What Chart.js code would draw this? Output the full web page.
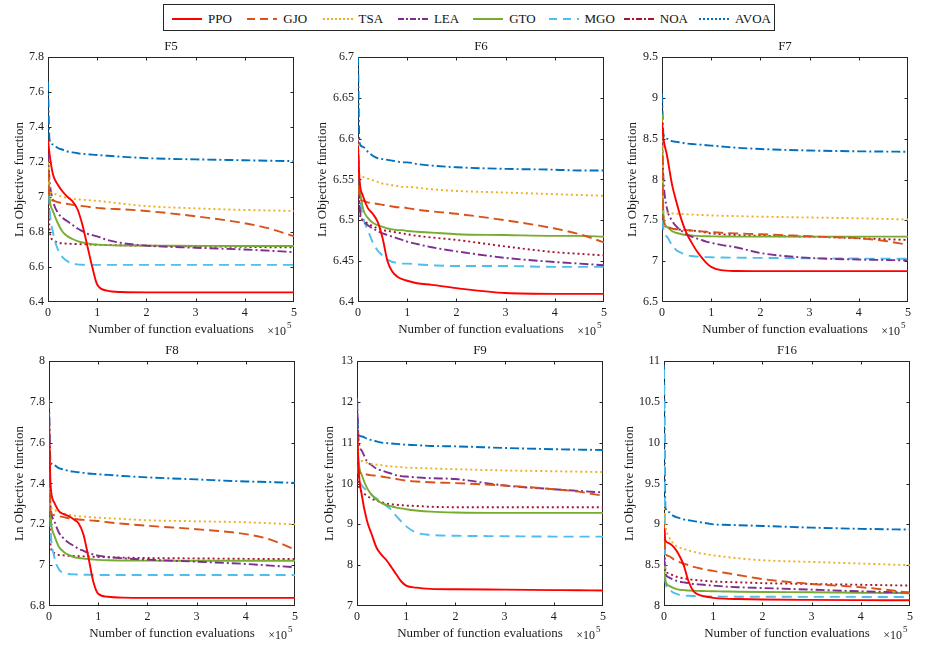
<!DOCTYPE html>
<html>
<head>
<meta charset="utf-8">
<script src="https://cdn.jsdelivr.net/npm/chart.js@4.4.1/dist/chart.umd.min.js"></script>
<style>
  body { margin: 0; background: #fff; width: 925px; height: 650px; position: relative; overflow: hidden; }
  .panel { position: absolute; }
  #legend { position: absolute; left: 163px; top: 4px; width: 612px; height: 27px; border: 1px solid #262626; box-sizing: border-box; background: #fff; }
  .item { position: absolute; top: 0; height: 27px; display: flex; align-items: center; font: 13px "Liberation Serif", "Times New Roman", serif; color: #111; }
  .item canvas { margin-right: 6px; }
</style>
</head>
<body>
<div id="legend"></div>
<div class="panel" style="left:1px;top:39px;width:307px;height:299px"><canvas id="c0"></canvas></div>
<div class="panel" style="left:311px;top:39px;width:307px;height:299px"><canvas id="c1"></canvas></div>
<div class="panel" style="left:615px;top:39px;width:307px;height:299px"><canvas id="c2"></canvas></div>
<div class="panel" style="left:2px;top:343px;width:307px;height:299px"><canvas id="c3"></canvas></div>
<div class="panel" style="left:310px;top:343px;width:307px;height:299px"><canvas id="c4"></canvas></div>
<div class="panel" style="left:617px;top:343px;width:307px;height:299px"><canvas id="c5"></canvas></div>
<script>
// function evaluations, in units of 1e5
const evals = [0, 0.03, 0.1, 0.2, 0.3, 0.4, 0.5, 0.6, 0.7, 0.8, 0.9, 1, 1.2, 1.5, 2, 3, 4, 4.5, 5];
const algos = ['PPO', 'GJO', 'TSA', 'LEA', 'GTO', 'MGO', 'NOA', 'AVOA'];
const titles = ['F5', 'F6', 'F7', 'F8', 'F9', 'F16'];
const yMin = [6.4, 6.4, 6.5, 6.8, 7, 8];
const yMax = [7.8, 6.7, 9.5, 8, 13, 11];
const yStep = [0.2, 0.05, 0.5, 0.2, 1, 0.5];
const xTicks = [0, 1, 2, 3, 4, 5];

// F5
const F5_PPO  = [7.33, 7.25, 7.13, 7.07, 7.03, 7.0, 6.975, 6.93, 6.84, 6.72, 6.6, 6.5, 6.465, 6.457, 6.455, 6.455, 6.455, 6.455, 6.455];
const F5_GJO  = [7.15, 7.0, 6.98, 6.97, 6.965, 6.96, 6.955, 6.95, 6.948, 6.945, 6.94, 6.938, 6.933, 6.93, 6.92, 6.89, 6.85, 6.82, 6.775];
const F5_TSA  = [7.2, 7.04, 7.02, 7.01, 7.0, 6.995, 6.99, 6.987, 6.984, 6.982, 6.98, 6.978, 6.972, 6.962, 6.948, 6.935, 6.926, 6.923, 6.92];
const F5_LEA  = [7.25, 7.1, 6.98, 6.91, 6.88, 6.86, 6.84, 6.82, 6.805, 6.79, 6.782, 6.775, 6.755, 6.737, 6.722, 6.71, 6.7, 6.693, 6.685];
const F5_GTO  = [7.2, 7.0, 6.92, 6.85, 6.8, 6.775, 6.76, 6.748, 6.74, 6.735, 6.73, 6.728, 6.725, 6.723, 6.722, 6.721, 6.72, 6.72, 6.72];
const F5_MGO  = [7.2, 6.95, 6.8, 6.7, 6.655, 6.632, 6.62, 6.615, 6.613, 6.612, 6.612, 6.612, 6.612, 6.612, 6.612, 6.612, 6.612, 6.612, 6.612];
const F5_NOA  = [7.25, 6.82, 6.755, 6.74, 6.735, 6.733, 6.732, 6.731, 6.73, 6.729, 6.728, 6.727, 6.726, 6.724, 6.722, 6.718, 6.715, 6.713, 6.712];
const F5_AVOA = [7.66, 7.33, 7.3, 7.28, 7.27, 7.26, 7.255, 7.25, 7.247, 7.244, 7.242, 7.24, 7.236, 7.23, 7.222, 7.215, 7.21, 7.207, 7.205];
// F6
const F6_PPO  = [6.59, 6.55, 6.53, 6.515, 6.508, 6.498, 6.478, 6.45, 6.437, 6.431, 6.428, 6.426, 6.423, 6.421, 6.417, 6.411, 6.41, 6.41, 6.41];
const F6_GJO  = [6.58, 6.527, 6.524, 6.522, 6.521, 6.52, 6.519, 6.518, 6.517, 6.516, 6.516, 6.515, 6.513, 6.511, 6.508, 6.5, 6.49, 6.483, 6.473];
const F6_TSA  = [6.6, 6.556, 6.553, 6.551, 6.549, 6.547, 6.545, 6.544, 6.543, 6.542, 6.541, 6.541, 6.54, 6.538, 6.536, 6.534, 6.532, 6.531, 6.53];
const F6_LEA  = [6.6, 6.52, 6.5, 6.494, 6.49, 6.487, 6.484, 6.482, 6.48, 6.478, 6.476, 6.474, 6.471, 6.467, 6.462, 6.454, 6.449, 6.447, 6.445];
const F6_GTO  = [6.58, 6.545, 6.515, 6.503, 6.497, 6.494, 6.492, 6.49, 6.489, 6.488, 6.488, 6.487, 6.486, 6.485, 6.483, 6.482, 6.481, 6.481, 6.48];
const F6_MGO  = [6.6, 6.54, 6.505, 6.488, 6.473, 6.463, 6.457, 6.452, 6.449, 6.448, 6.447, 6.447, 6.446, 6.445, 6.444, 6.444, 6.443, 6.443, 6.443];
const F6_NOA  = [6.58, 6.51, 6.5, 6.496, 6.493, 6.49, 6.488, 6.487, 6.486, 6.485, 6.484, 6.483, 6.481, 6.479, 6.476, 6.468, 6.461, 6.459, 6.457];
const F6_AVOA = [6.7, 6.595, 6.59, 6.584, 6.579, 6.576, 6.575, 6.574, 6.573, 6.572, 6.571, 6.571, 6.569, 6.567, 6.565, 6.563, 6.562, 6.561, 6.561];
// F7
const F7_PPO  = [8.7, 8.5, 8.3, 7.95, 7.71, 7.5, 7.34, 7.23, 7.13, 7.05, 6.98, 6.93, 6.89, 6.88, 6.878, 6.878, 6.878, 6.878, 6.878];
const F7_GJO  = [8.3, 7.5, 7.42, 7.4, 7.39, 7.385, 7.38, 7.375, 7.37, 7.365, 7.36, 7.355, 7.348, 7.34, 7.33, 7.305, 7.28, 7.25, 7.2];
const F7_TSA  = [8.6, 7.6, 7.59, 7.585, 7.58, 7.577, 7.574, 7.571, 7.568, 7.566, 7.563, 7.56, 7.557, 7.552, 7.545, 7.535, 7.525, 7.518, 7.51];
const F7_LEA  = [8.5, 8.0, 7.65, 7.5, 7.42, 7.37, 7.33, 7.3, 7.28, 7.26, 7.24, 7.225, 7.2, 7.17, 7.1, 7.04, 7.02, 7.015, 7.01];
const F7_GTO  = [8.8, 7.55, 7.42, 7.37, 7.345, 7.33, 7.32, 7.315, 7.31, 7.307, 7.305, 7.304, 7.302, 7.301, 7.3, 7.3, 7.3, 7.3, 7.3];
const F7_MGO  = [7.7, 7.38, 7.3, 7.2, 7.13, 7.1, 7.075, 7.063, 7.057, 7.053, 7.05, 7.048, 7.045, 7.043, 7.04, 7.035, 7.032, 7.031, 7.03];
const F7_NOA  = [8.6, 7.5, 7.42, 7.4, 7.39, 7.385, 7.38, 7.375, 7.37, 7.36, 7.35, 7.34, 7.33, 7.32, 7.31, 7.3, 7.28, 7.27, 7.26];
const F7_AVOA = [9.05, 8.55, 8.5, 8.47, 8.46, 8.45, 8.44, 8.435, 8.43, 8.425, 8.42, 8.415, 8.405, 8.39, 8.373, 8.355, 8.345, 8.342, 8.34];
// F8
const F8_PPO  = [7.75, 7.4, 7.31, 7.265, 7.25, 7.24, 7.225, 7.205, 7.15, 7.04, 6.92, 6.86, 6.845, 6.841, 6.84, 6.84, 6.84, 6.84, 6.84];
const F8_GJO  = [7.5, 7.26, 7.245, 7.24, 7.235, 7.23, 7.227, 7.224, 7.222, 7.22, 7.218, 7.216, 7.21, 7.203, 7.193, 7.176, 7.152, 7.125, 7.076];
const F8_TSA  = [7.6, 7.29, 7.27, 7.26, 7.253, 7.247, 7.243, 7.24, 7.238, 7.236, 7.234, 7.233, 7.23, 7.226, 7.22, 7.215, 7.21, 7.205, 7.2];
const F8_LEA  = [7.6, 7.3, 7.22, 7.16, 7.13, 7.11, 7.095, 7.08, 7.07, 7.06, 7.052, 7.047, 7.04, 7.034, 7.027, 7.017, 7.006, 6.998, 6.99];
const F8_GTO  = [7.6, 7.25, 7.15, 7.09, 7.065, 7.05, 7.04, 7.035, 7.032, 7.03, 7.028, 7.026, 7.024, 7.023, 7.022, 7.022, 7.022, 7.022, 7.022];
const F8_MGO  = [7.55, 7.2, 7.05, 6.98, 6.962, 6.957, 6.955, 6.954, 6.953, 6.953, 6.953, 6.952, 6.952, 6.952, 6.952, 6.952, 6.952, 6.952, 6.952];
const F8_NOA  = [7.45, 7.1, 7.06, 7.05, 7.048, 7.046, 7.045, 7.044, 7.043, 7.042, 7.041, 7.04, 7.039, 7.037, 7.035, 7.033, 7.031, 7.03, 7.03];
const F8_AVOA = [7.81, 7.51, 7.49, 7.475, 7.468, 7.462, 7.458, 7.455, 7.452, 7.449, 7.447, 7.445, 7.442, 7.437, 7.43, 7.42, 7.41, 7.407, 7.403];
// F9
const F9_PPO  = [11.5, 10.4, 9.7, 9.1, 8.75, 8.42, 8.25, 8.12, 7.95, 7.77, 7.6, 7.5, 7.45, 7.42, 7.41, 7.4, 7.39, 7.385, 7.38];
const F9_GJO  = [11.2, 10.3, 10.25, 10.22, 10.2, 10.19, 10.17, 10.15, 10.13, 10.11, 10.09, 10.07, 10.05, 10.03, 10.01, 9.95, 9.86, 9.8, 9.7];
const F9_TSA  = [11.5, 10.6, 10.55, 10.51, 10.48, 10.46, 10.45, 10.43, 10.42, 10.41, 10.4, 10.39, 10.38, 10.37, 10.35, 10.32, 10.3, 10.29, 10.28];
const F9_LEA  = [12.1, 11.1, 10.8, 10.55, 10.45, 10.36, 10.32, 10.28, 10.24, 10.2, 10.18, 10.17, 10.15, 10.13, 10.11, 9.95, 9.86, 9.82, 9.78];
const F9_GTO  = [11.5, 10.6, 10.2, 9.9, 9.72, 9.6, 9.52, 9.47, 9.44, 9.41, 9.39, 9.37, 9.34, 9.31, 9.29, 9.28, 9.28, 9.28, 9.28];
const F9_MGO  = [11.6, 10.3, 9.95, 9.82, 9.72, 9.63, 9.55, 9.45, 9.35, 9.2, 9.07, 8.95, 8.8, 8.74, 8.72, 8.71, 8.7, 8.7, 8.7];
const F9_NOA  = [10.8, 10.0, 9.8, 9.7, 9.63, 9.58, 9.54, 9.51, 9.49, 9.48, 9.47, 9.46, 9.45, 9.43, 9.42, 9.42, 9.42, 9.42, 9.42];
const F9_AVOA = [12.02, 11.2, 11.15, 11.1, 11.06, 11.03, 11.0, 10.99, 10.98, 10.97, 10.96, 10.95, 10.94, 10.92, 10.91, 10.87, 10.84, 10.83, 10.82];
// F16
const F16_PPO  = [8.95, 8.8, 8.77, 8.72, 8.63, 8.5, 8.3, 8.18, 8.14, 8.12, 8.11, 8.1, 8.09, 8.085, 8.08, 8.075, 8.072, 8.071, 8.07];
const F16_GJO  = [9.0, 8.65, 8.61, 8.57, 8.54, 8.52, 8.5, 8.48, 8.465, 8.45, 8.44, 8.43, 8.41, 8.38, 8.33, 8.27, 8.23, 8.2, 8.16];
const F16_TSA  = [9.2, 8.98, 8.85, 8.76, 8.72, 8.7, 8.68, 8.665, 8.65, 8.64, 8.63, 8.62, 8.605, 8.585, 8.56, 8.54, 8.52, 8.51, 8.5];
const F16_LEA  = [8.6, 8.4, 8.35, 8.32, 8.3, 8.29, 8.28, 8.27, 8.265, 8.26, 8.255, 8.25, 8.24, 8.23, 8.22, 8.2, 8.18, 8.172, 8.165];
const F16_GTO  = [8.5, 8.3, 8.25, 8.22, 8.2, 8.195, 8.19, 8.187, 8.185, 8.183, 8.182, 8.18, 8.178, 8.175, 8.172, 8.168, 8.163, 8.16, 8.157];
const F16_MGO  = [10.9, 8.3, 8.2, 8.16, 8.14, 8.13, 8.125, 8.122, 8.12, 8.118, 8.117, 8.116, 8.115, 8.114, 8.113, 8.112, 8.111, 8.11, 8.11];
const F16_NOA  = [8.9, 8.45, 8.4, 8.37, 8.35, 8.34, 8.33, 8.32, 8.315, 8.31, 8.305, 8.3, 8.295, 8.29, 8.28, 8.27, 8.26, 8.255, 8.25];
const F16_AVOA = [10.95, 9.2, 9.15, 9.1, 9.08, 9.06, 9.05, 9.04, 9.03, 9.02, 9.01, 9.0, 8.995, 8.99, 8.98, 8.96, 8.945, 8.94, 8.935];

const series = [
  [F5_PPO, F5_GJO, F5_TSA, F5_LEA, F5_GTO, F5_MGO, F5_NOA, F5_AVOA],
  [F6_PPO, F6_GJO, F6_TSA, F6_LEA, F6_GTO, F6_MGO, F6_NOA, F6_AVOA],
  [F7_PPO, F7_GJO, F7_TSA, F7_LEA, F7_GTO, F7_MGO, F7_NOA, F7_AVOA],
  [F8_PPO, F8_GJO, F8_TSA, F8_LEA, F8_GTO, F8_MGO, F8_NOA, F8_AVOA],
  [F9_PPO, F9_GJO, F9_TSA, F9_LEA, F9_GTO, F9_MGO, F9_NOA, F9_AVOA],
  [F16_PPO, F16_GJO, F16_TSA, F16_LEA, F16_GTO, F16_MGO, F16_NOA, F16_AVOA]
];

// styling (MATLAB default palette)
const colors = ['#ff0000', '#d95319', '#edb120', '#7e2f8e', '#77ac30', '#4dbeee', '#a2142f', '#0072bd'];
const dashes = [[], [10, 5], [2, 3], [9, 3, 2, 3], [], [10, 6], [2, 3], [9, 3, 2, 3]];
const legendDashes = [[], [8, 5], [2, 2], [6, 2, 2, 2], [], [8, 6], [6, 2, 2, 2], [2, 2]];
const ylabelPad = [11, 4, 10, 10, 12, 4.5];
const SERIF = '"Liberation Serif", "Times New Roman", serif';
const INK = '#1a1a1a';

// legend
const legend = document.getElementById('legend');
algos.forEach((name, i) => {
  const item = document.createElement('div');
  item.className = 'item';
  item.style.left = (8 + i * 75.3) + 'px';
  const c = document.createElement('canvas');
  c.width = 30; c.height = 10;
  const g = c.getContext('2d');
  g.strokeStyle = colors[i];
  g.lineWidth = 2;
  g.setLineDash(legendDashes[i]);
  g.beginPath(); g.moveTo(0, 5); g.lineTo(30, 5); g.stroke();
  item.appendChild(c);
  item.appendChild(document.createTextNode(name));
  legend.appendChild(item);
});

// box, inward ticks, title and x10^5 note
const matlabAxes = {
  id: 'matlabAxes',
  beforeDatasetsDraw(chart) {
    const { ctx, chartArea: a, scales: { x, y } } = chart;
    const L = Math.round(a.left) + 0.5, R = Math.round(a.right) - 0.5;
    const T = Math.round(a.top) + 0.5, B = Math.round(a.bottom) - 0.5;
    ctx.save();
    ctx.strokeStyle = '#262626';
    ctx.lineWidth = 1;
    ctx.strokeRect(L, T, R - L, B - T);
    ctx.beginPath();
    y.ticks.forEach((t, k) => {
      if (k === 0 || k === y.ticks.length - 1) return;
      const py = Math.round(y.getPixelForValue(t.value)) + 0.5;
      ctx.moveTo(L, py); ctx.lineTo(L + 3, py);
      ctx.moveTo(R, py); ctx.lineTo(R - 3, py);
    });
    x.ticks.forEach((t, k) => {
      if (k === 0 || k === x.ticks.length - 1) return;
      const px = Math.round(x.getPixelForValue(t.value)) + 0.5;
      ctx.moveTo(px, B); ctx.lineTo(px, B - 3);
      ctx.moveTo(px, T); ctx.lineTo(px, T + 3);
    });
    ctx.stroke();
    ctx.restore();
  },
  afterDraw(chart, args, opts) {
    const { ctx, chartArea: a } = chart;
    ctx.save();
    ctx.fillStyle = INK;
    ctx.textBaseline = 'middle';
    ctx.font = '13px ' + SERIF;
    ctx.textAlign = 'center';
    ctx.fillText(opts.title, (a.left + a.right) / 2, a.top - 10);
    ctx.font = '12px ' + SERIF;
    ctx.textAlign = 'right';
    ctx.fillText('\u00d710', a.right - 8, a.bottom + 30);
    ctx.font = '9px ' + SERIF;
    ctx.textAlign = 'left';
    ctx.fillText('5', a.right - 7, a.bottom + 24);
    ctx.restore();
  }
};

const fmt = v => String(parseFloat(Number(v).toFixed(3)));

titles.forEach((title, p) => {
  const datasets = algos.map((name, i) => ({
    label: name,
    data: evals.map((e, k) => ({ x: e, y: series[p][i][k] })),
    borderColor: colors[i],
    borderWidth: 1.9,
    borderDash: dashes[i],
    pointRadius: 0,
    fill: false,
    cubicInterpolationMode: 'monotone'
  }));
  new Chart(document.getElementById('c' + p), {
    type: 'line',
    data: { datasets },
    plugins: [matlabAxes],
    options: {
      responsive: true,
      maintainAspectRatio: false,
      animation: false,
      layout: { padding: { top: 18, right: 14, left: 0, bottom: 0 } },
      plugins: {
        legend: { display: false },
        tooltip: { enabled: false },
        matlabAxes: { title }
      },
      scales: {
        x: {
          type: 'linear',
          min: 0, max: 5,
          afterBuildTicks: s => { s.ticks = xTicks.map(v => ({ value: v })); },
          afterFit: s => { s.height = 36; s.paddingLeft = 0; s.paddingRight = 0; },
          grid: { display: false, drawTicks: false },
          border: { display: false },
          ticks: { padding: 4, maxRotation: 0, autoSkip: false, color: INK, font: { family: SERIF, size: 12 } },
          title: { display: true, text: 'Number of function evaluations', color: INK, font: { family: SERIF, size: 13 }, padding: { top: 0, bottom: 1 } }
        },
        y: {
          min: yMin[p], max: yMax[p],
          ticks: { stepSize: yStep[p], padding: 4, color: INK, font: { family: SERIF, size: 12 }, callback: fmt },
          afterFit: s => { s.width = 47; s.paddingTop = 0; s.paddingBottom = 0; },
          grid: { display: false, drawTicks: false },
          border: { display: false },
          title: { display: true, text: 'Ln Objective function', color: INK, font: { family: SERIF, size: 13 }, padding: { top: ylabelPad[p], bottom: 0 } }
        }
      }
    }
  });
});
</script>
</body>
</html>
